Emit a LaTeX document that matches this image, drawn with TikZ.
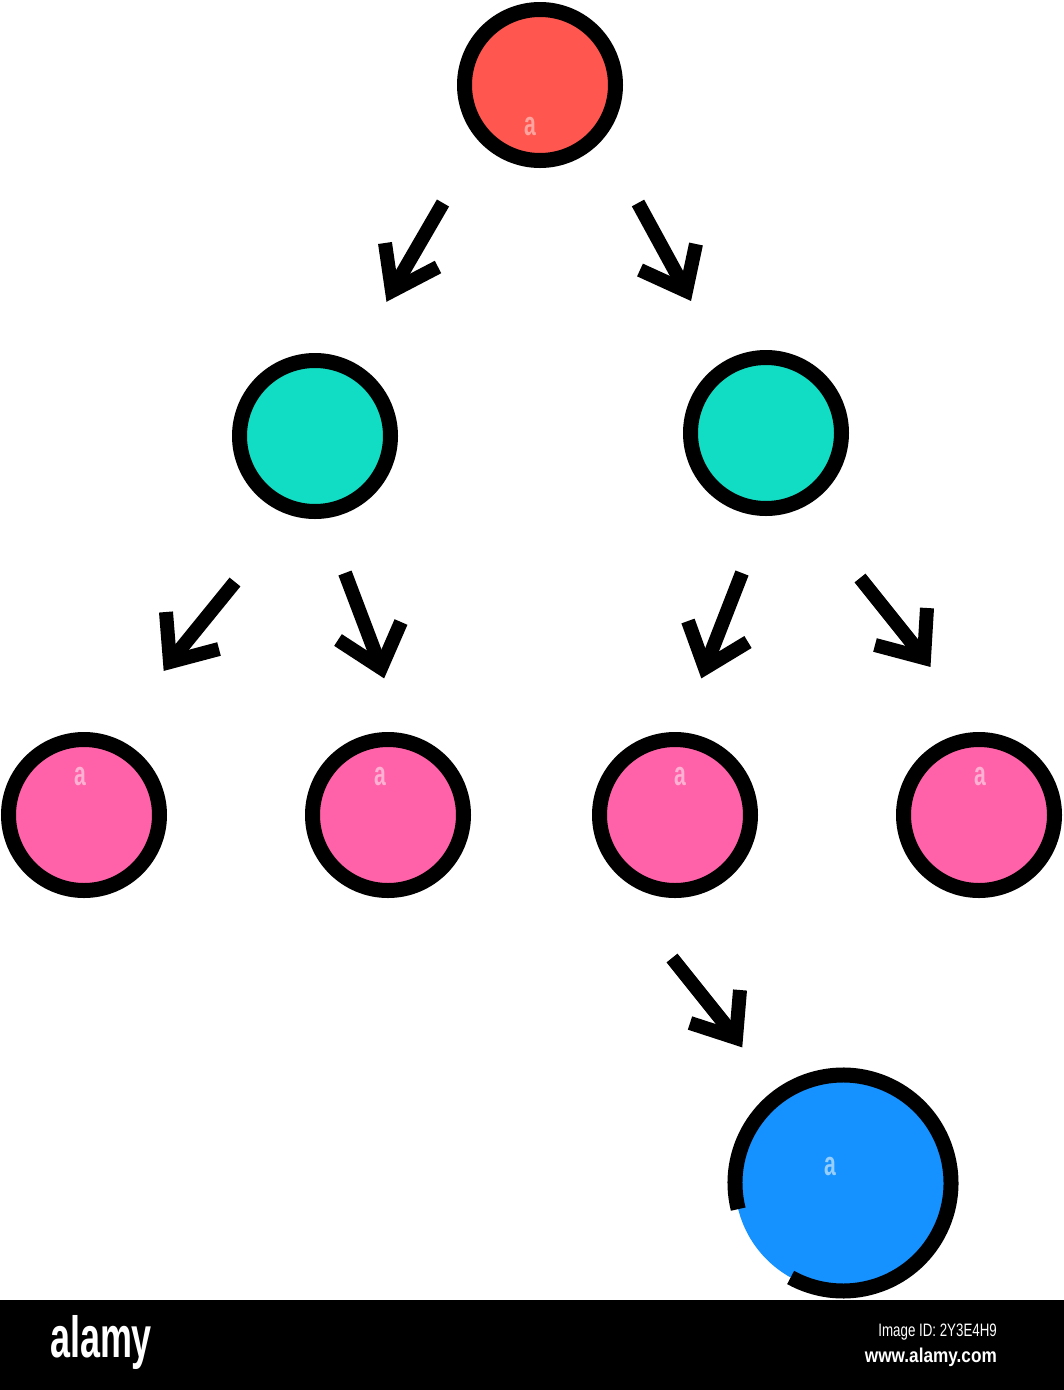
\documentclass[tikz,border=0pt]{standalone}
\usepackage{fontspec}
\setmainfont{Liberation Sans}
\usetikzlibrary{calc}
\definecolor{cred}{HTML}{FF574F}
\definecolor{cteal}{HTML}{10DDC3}
\definecolor{cpink}{HTML}{FF62A8}
\definecolor{cblue}{HTML}{1592FF}
\tikzset{
  ball/.style={circle, draw=black, line width=15pt, minimum size=151pt, inner sep=0pt},
  arr/.style={line width=14pt, draw=black, line join=miter, miter limit=10},
  wm/.style={font=\bfseries\fontsize{34}{34}\selectfont, inner sep=0pt, xscale=0.62},
}
\begin{document}
\begin{tikzpicture}[x=1pt,y=-1pt]
\useasboundingbox (0,0) rectangle (1064,1390);
% circles
\node[ball, fill=cred] (r) at (540,85) {};
\node[ball, fill=cteal] (t1) at (315,436) {};
\node[ball, fill=cteal] (t2) at (766,433) {};
\node[ball, fill=cpink] (p1) at (84,815) {};
\node[ball, fill=cpink] (p2) at (388,815) {};
\node[ball, fill=cpink] (p3) at (675,815) {};
\node[ball, fill=cpink] (p4) at (979,815) {};
\coordinate (bc) at (843,1183);
\fill[cblue] (bc) circle (108);
\draw[line width=15pt] ($(bc)+(166:108)$) arc[start angle=166, end angle=479, radius=108];
% watermark letters
\node[wm, text=cred!55!white] (w1) at (530,127) {a};
\node[wm, text=cpink!50!white] (w2) at (80,777) {a};
\node[wm, text=cpink!50!white] (w3) at (380,777) {a};
\node[wm, text=cpink!50!white] (w4) at (680,777) {a};
\node[wm, text=cpink!50!white] (w5) at (980,777) {a};
\node[wm, text=cblue!45!white] (w6) at (830,1167) {a};
% arrows: start, tip, arm ends
\newcommand{\myarrow}[4]{%
  \draw[arr] #1 -- #2;
  \draw[arr] #3 -- #2 -- #4;}
\myarrow{(443,203)}{(392,291)}{(385,243)}{(438,267)}
\myarrow{(638,203)}{(686,291)}{(696,244)}{(640,270)}
\myarrow{(235,582)}{(170,662)}{(166,612)}{(219,649)}
\myarrow{(345,573)}{(381,668)}{(401,622)}{(338,640)}
\myarrow{(742,573)}{(705,668)}{(688,621)}{(748,642)}
\myarrow{(860,578)}{(924,658)}{(927,608)}{(875,645)}
\myarrow{(672,958)}{(736,1038)}{(740,990)}{(690,1023)}
% footer bar
\fill[black] (0,1300) rectangle (1064,1390);
\node[text=white, font=\bfseries\fontsize{58}{58}\selectfont, xscale=0.62, inner sep=0pt] (logo) at (101,1342) {alamy};
\node[text=white, font=\fontsize{18}{18}\selectfont, xscale=0.74, inner sep=0pt, anchor=east] (id) at (997,1332) {Image ID: 2Y3E4H9};
\node[text=white, font=\bfseries\fontsize{20}{20}\selectfont, xscale=0.86, inner sep=0pt, anchor=east] (url) at (997,1357) {www.alamy.com};
\end{tikzpicture}
\end{document}
